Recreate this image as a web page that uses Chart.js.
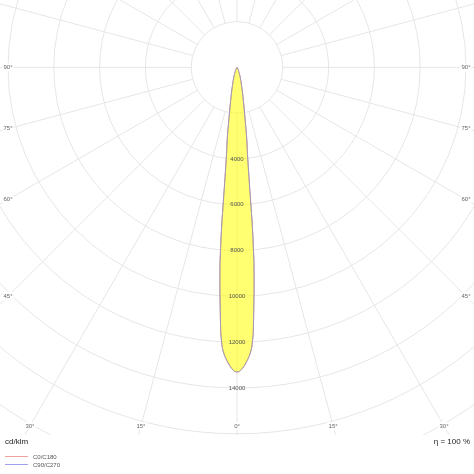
<!DOCTYPE html>
<html>
<head>
<meta charset="utf-8">
<script src="https://cdn.jsdelivr.net/npm/chart.js@4.4.1/dist/chart.umd.min.js"></script>
<style>
  html, body { margin: 0; padding: 0; background: #fff; }
  #wrap { width: 474px; height: 474px; position: relative; }
</style>
</head>
<body>
<div id="wrap"><canvas id="polarChart" width="474" height="474"></canvas></div>
<script>
// gamma angles (deg from nadir) and luminous intensity in cd/klm
const gammaAngles = [0, 0.5, 1, 1.5, 2, 2.5, 3, 3.5, 4, 4.5, 5, 5.5, 6, 6.5, 7, 7.5, 8, 9, 10, 12, 14, 16, 18, 20, 25, 30, 35, 40, 50, 60, 70, 80, 90];
const intensityC0C180 = [13300, 13270, 13150, 13000, 12800, 12580, 12250, 11600, 10500, 9500, 8450, 7000, 5300, 4300, 3700, 3330, 2950, 2200, 1750, 1180, 820, 600, 440, 320, 150, 70, 35, 15, 0, 0, 0, 0, 0];
const intensityC90C270 = [13300, 13270, 13150, 13000, 12800, 12580, 12250, 11600, 10500, 9500, 8450, 7000, 5300, 4300, 3700, 3330, 2950, 2200, 1750, 1180, 820, 600, 440, 320, 150, 70, 35, 15, 0, 0, 0, 0, 0];

const ringValues = [2000, 4000, 6000, 8000, 10000, 12000, 14000, 16000, 18000];
const ringLabels = ['4000', '6000', '8000', '10000', '12000', '14000'];
const spokeStep = 15;
const sideAngleLabels = [90, 75, 60, 45];
const bottomAngleLabels = [30, 15, 0, 15, 30];
const bottomAngleSigns = [-1, -1, 0, 1, 1];

// polar -> cartesian (value space), both half planes of the C-plane
function lobePoints(values) {
    const pts = [];
    for (let i = gammaAngles.length - 1; i >= 0; i--) {
        const g = gammaAngles[i] * Math.PI / 180;
        pts.push({ x: -values[i] * Math.sin(g), y: -values[i] * Math.cos(g) });
    }
    for (let i = 1; i < gammaAngles.length; i++) {
        const g = gammaAngles[i] * Math.PI / 180;
        pts.push({ x: values[i] * Math.sin(g), y: -values[i] * Math.cos(g) });
    }
    return pts;
}

const gridPlugin = {
    id: 'polarGrid',
    beforeDatasetsDraw(chart) {
        const ctx = chart.ctx;
        const xs = chart.scales.x, ys = chart.scales.y;
        const cx = xs.getPixelForValue(0), cy = ys.getPixelForValue(0);
        const pxPer = xs.getPixelForValue(1000) - cx;
        ctx.save();
        ctx.beginPath();
        ctx.rect(0, 0, 474, 435);
        ctx.clip();
        ctx.strokeStyle = '#e6e6e6';
        ctx.lineWidth = 1;
        ringValues.forEach(v => {
            ctx.beginPath();
            ctx.arc(cx, cy, v / 1000 * pxPer, 0, Math.PI * 2);
            ctx.stroke();
        });
        const r0 = ringValues[0] / 1000 * pxPer;
        for (let a = 0; a < 360; a += spokeStep) {
            const t = a * Math.PI / 180;
            ctx.beginPath();
            ctx.moveTo(cx + Math.sin(t) * r0, cy + Math.cos(t) * r0);
            ctx.lineTo(cx + Math.sin(t) * 700, cy + Math.cos(t) * 700);
            ctx.stroke();
        }
        ctx.restore();
    },
    afterDatasetsDraw(chart) {
        const ctx = chart.ctx;
        const xs = chart.scales.x, ys = chart.scales.y;
        const cx = xs.getPixelForValue(0), cy = ys.getPixelForValue(0);
        ctx.save();
        ctx.font = '6px "Liberation Sans", Arial, sans-serif';
        ctx.textAlign = 'center';
        ctx.textBaseline = 'middle';
        ctx.fillStyle = '#555';
        ringLabels.forEach(l => {
            ctx.fillText(l, cx, ys.getPixelForValue(-Number(l)));
        });

        const label = (txt, x, y) => {
            const w = ctx.measureText(txt).width + 2;
            ctx.fillStyle = '#fff';
            ctx.fillRect(x - w / 2, y - 4, w, 8);
            ctx.fillStyle = '#666';
            ctx.fillText(txt, x, y);
        };
        sideAngleLabels.forEach(a => {
            const t = a * Math.PI / 180;
            const dxL = cx - 8;
            const y = a === 90 ? cy : cy + dxL / Math.tan(t);
            label(a + '°', 8, y);
            label(a + '°', 466, y);
        });
        bottomAngleLabels.forEach((a, i) => {
            const t = a * Math.PI / 180;
            const yb = 426;
            label(a + '°', cx + bottomAngleSigns[i] * (yb - cy) * Math.tan(t), yb);
        });

        ctx.fillStyle = '#222';
        ctx.font = '8px "Liberation Sans", Arial, sans-serif';
        ctx.textAlign = 'left';
        ctx.fillText('cd/klm', 5, 442);
        ctx.textAlign = 'right';
        ctx.fillText('η = 100 %', 470, 442);

        ctx.lineWidth = 1;
        ctx.strokeStyle = '#f2a0a0';
        ctx.beginPath(); ctx.moveTo(5, 456.5); ctx.lineTo(28, 456.5); ctx.stroke();
        ctx.strokeStyle = '#a0a0f2';
        ctx.beginPath(); ctx.moveTo(5, 464.5); ctx.lineTo(28, 464.5); ctx.stroke();
        ctx.font = '6px "Liberation Sans", Arial, sans-serif';
        ctx.textAlign = 'left';
        ctx.fillStyle = '#555';
        ctx.fillText('C0/C180', 33, 457);
        ctx.fillText('C90/C270', 33, 465);
        ctx.restore();
    }
};

const pxPerUnit = 22.9 / 1000;
const centerX = 237, centerY = 67.4;

new Chart(document.getElementById('polarChart'), {
    type: 'scatter',
    data: {
        datasets: [
            {
                label: 'C90/C270',
                data: lobePoints(intensityC90C270),
                showLine: true,
                borderColor: '#a496c0',
                borderWidth: 1,
                backgroundColor: 'rgba(255,255,10,0.58)',
                fill: 'shape',
                pointRadius: 0,
                tension: 0.2
            },
            {
                label: 'C0/C180',
                data: lobePoints(intensityC0C180),
                showLine: true,
                borderColor: 'rgba(190,125,105,0.85)',
                borderWidth: 1,
                fill: false,
                pointRadius: 0,
                tension: 0.2
            }
        ]
    },
    options: {
        responsive: false,
        animation: false,
        devicePixelRatio: 1,
        layout: { padding: 0 },
        plugins: { legend: { display: false }, tooltip: { enabled: false } },
        scales: {
            x: { type: 'linear', display: false, min: -centerX / pxPerUnit, max: (474 - centerX) / pxPerUnit },
            y: { type: 'linear', display: false, min: -(474 - centerY) / pxPerUnit, max: centerY / pxPerUnit }
        }
    },
    plugins: [gridPlugin]
});
</script>
</body>
</html>
